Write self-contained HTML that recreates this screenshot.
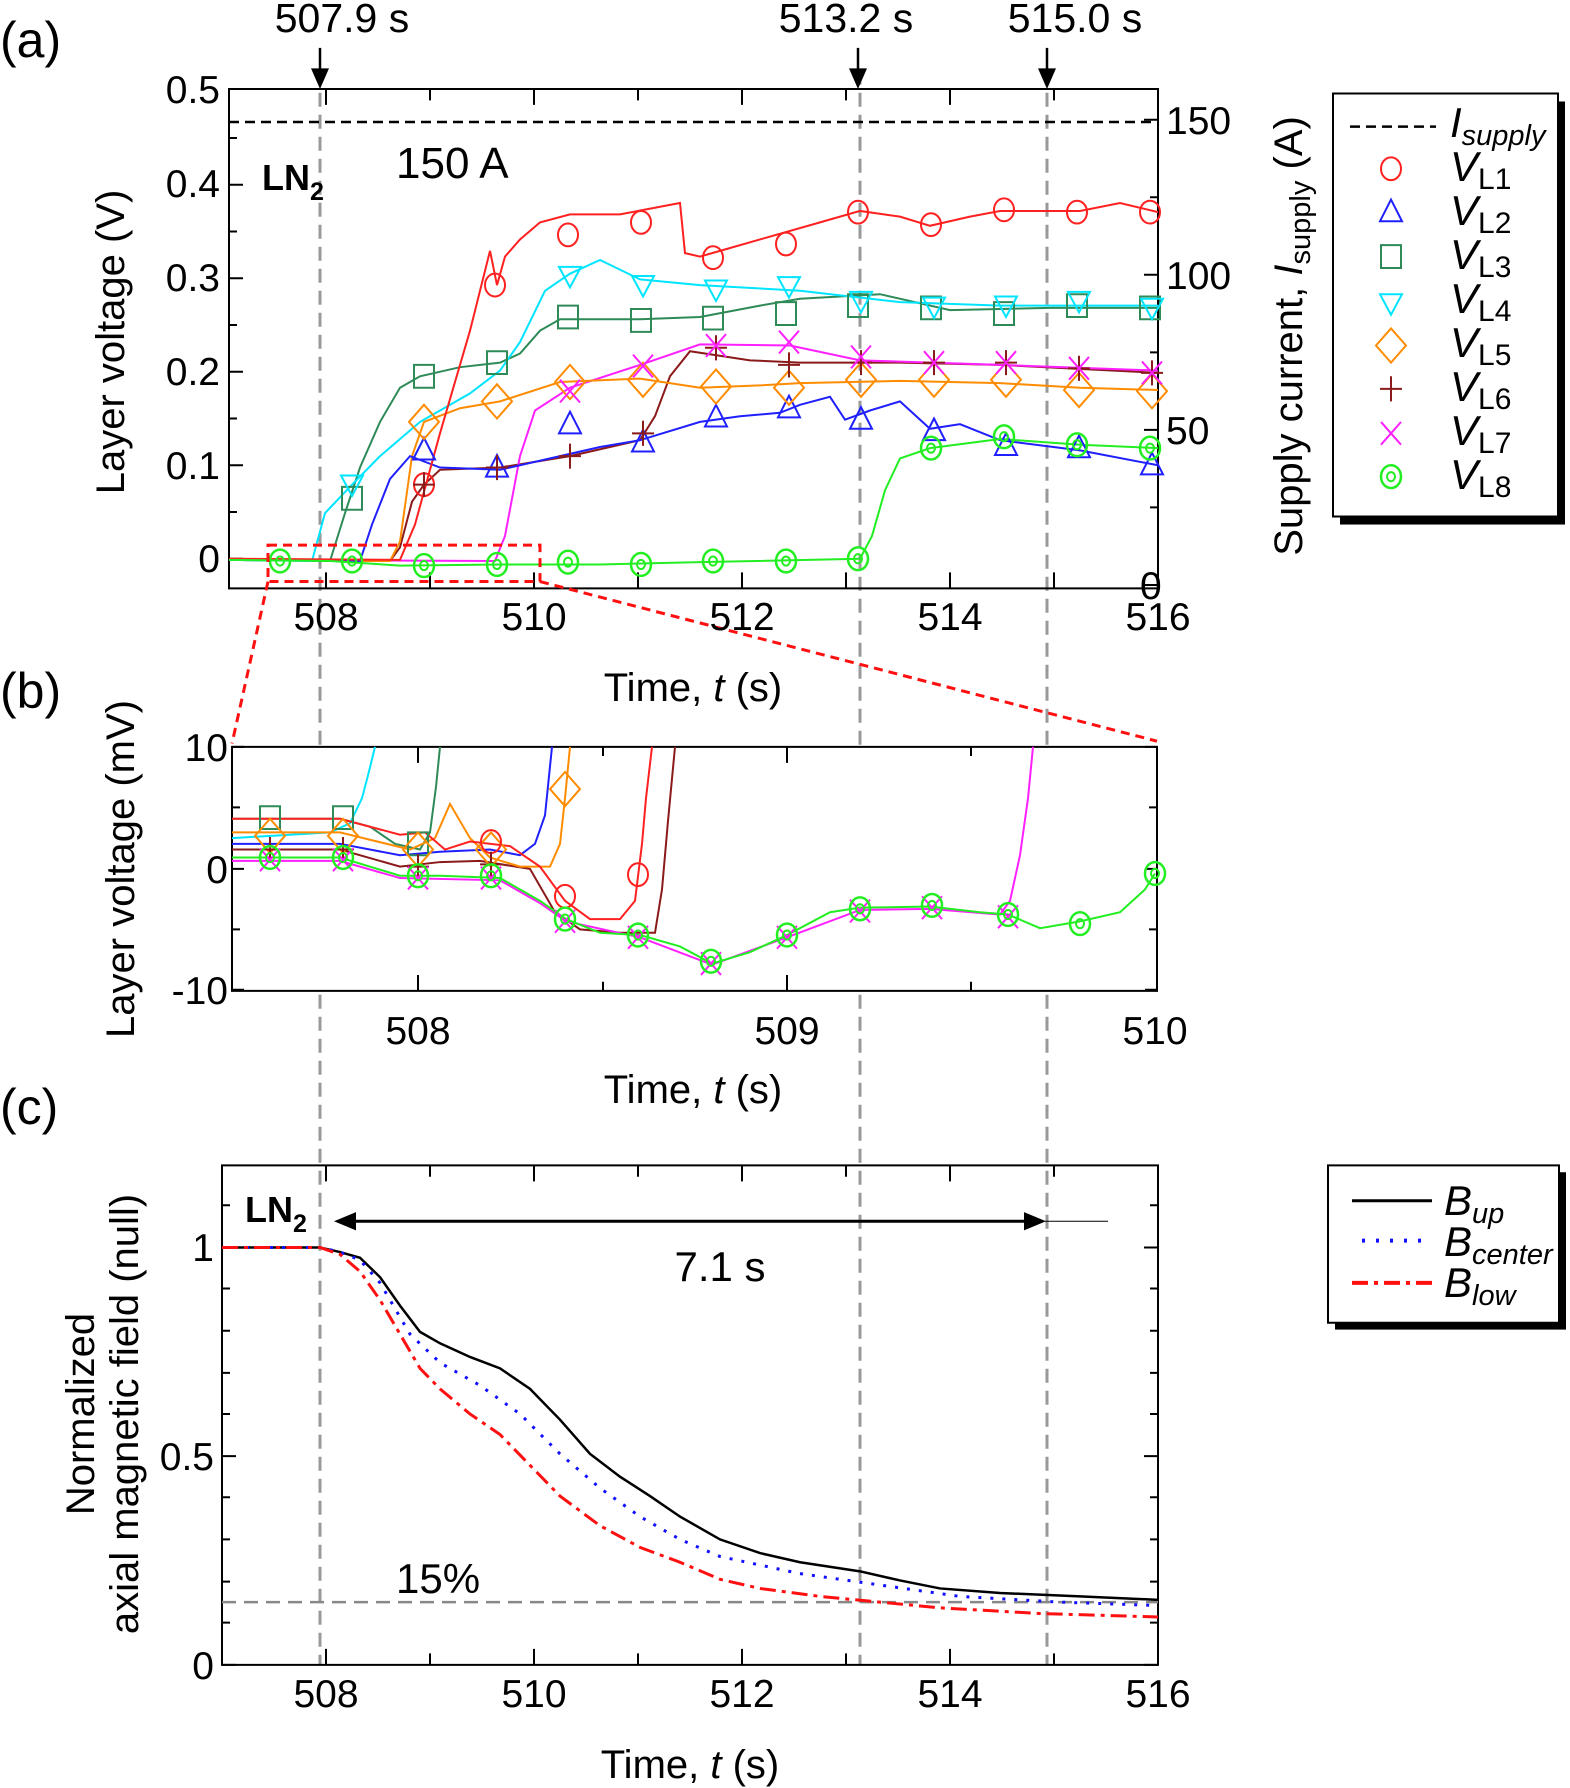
<!DOCTYPE html>
<html><head><meta charset="utf-8"><style>
html,body{margin:0;padding:0;background:#fff;}
svg{display:block;font-family:"Liberation Sans",Arial,sans-serif;}
.ns{vector-effect:non-scaling-stroke;fill:none;}
.wf{vector-effect:non-scaling-stroke;}
</style></head><body>
<svg width="1570" height="1788" viewBox="0 0 1570 1788" xmlns="http://www.w3.org/2000/svg">
<defs>
<g id="mc"><circle r="10" fill="none" stroke="#ff2020" stroke-width="2" class="ns"/></g>
<g id="mt"><path d="M0,-11 L11,8 L-11,8Z" fill="none" stroke="#2020ff" stroke-width="2" class="ns"/></g>
<g id="ms"><rect x="-10" y="-10" width="20" height="20" fill="none" stroke="#2e8b57" stroke-width="2" class="ns"/></g>
<g id="mv"><path d="M0,10 L11,-8 L-11,-8Z" fill="none" stroke="#00e5ff" stroke-width="2" class="ns"/></g>
<g id="md"><path d="M0,-15 L15,0 L0,15 L-15,0Z" fill="none" stroke="#ff8c00" stroke-width="2" class="ns"/></g>
<g id="mp"><path d="M-11,0H11M0,-11V11" stroke="#8b1a1a" stroke-width="2" class="ns"/></g>
<g id="mx"><path d="M-10,-10L10,10M-10,10L10,-10" stroke="#ff20ff" stroke-width="2" class="ns"/></g>
<g id="mo"><circle r="10" fill="none" stroke="#22ee22" stroke-width="2.5" class="ns"/><circle r="4" fill="none" stroke="#22ee22" stroke-width="2" class="ns"/></g>
</defs>

<g transform="scale(1,1.1403)">
<g stroke="#999" stroke-width="3" stroke-dasharray="14,8" class="ns">
<line x1="320" y1="62" x2="320" y2="1460" class="ns"/>
<line x1="860" y1="62" x2="860" y2="1460" class="ns"/>
<line x1="1047" y1="62" x2="1047" y2="1460" class="ns"/>
</g>
<g stroke="#000" stroke-width="2.5">
<line x1="320" y1="42" x2="320" y2="66" class="ns"/><line x1="858" y1="42" x2="858" y2="66" class="ns"/><line x1="1047" y1="42" x2="1047" y2="66" class="ns"/>
</g>
<path d="M311,60 L329,60 L320,78Z M849,60 L867,60 L858,78Z M1038,60 L1056,60 L1047,78Z" fill="#000"/>

<!-- PANEL A -->
<rect x="229" y="78" width="929" height="438" fill="none" stroke="#000" stroke-width="2" class="ns"/>
<g stroke="#000" stroke-width="2" class="ns">
<path class="ns" d="M229,490h14M229,449h8M229,408h14M229,367h8M229,326h14M229,285h8M229,244h14M229,203h8M229,162h14M229,121h8M229,78h14
M1158,513h-14M1158,445h-8M1158,377h-14M1158,309h-8M1158,241h-14M1158,173h-8M1158,105h-14
M326,516v-14M430,516v-14M534,516v-14M638,516v-14M742,516v-14M846,516v-14M950,516v-14M1054,516v-14
M326,78v14M430,78v10M534,78v14M638,78v10M742,78v14M846,78v10M950,78v14M1054,78v10"/>
</g>
<line x1="229" y1="107" x2="1158" y2="107" stroke="#000" stroke-width="2.5" stroke-dasharray="10,6" class="ns"/>
<polyline class="ns" stroke="#8b1a1a" stroke-width="2" points="229,491 390,492 400,480 412,440 424,425 440,412 500,410 570,400 640,386 655,365 670,330 690,308 750,316 800,318 900,318 1000,320 1158,327"/>
<polyline class="ns" stroke="#ff20ff" stroke-width="2" points="229,491 495,492 505,470 520,400 535,360 570,340 640,320 700,302 790,303 860,316 1000,320 1158,325"/>
<polyline class="ns" stroke="#ff8c00" stroke-width="2" points="229,491 390,492 400,475 412,400 424,370 460,358 500,352 560,335 640,332 700,340 760,338 800,336 900,334 1000,336 1080,340 1158,342"/>
<polyline class="ns" stroke="#2020ff" stroke-width="2" points="229,491 360,492 372,460 390,420 410,400 440,410 500,412 560,400 600,392 640,386 700,370 740,365 780,362 800,355 830,348 845,368 870,360 900,352 930,376 960,372 1000,386 1080,395 1158,408"/>
<polyline class="ns" stroke="#2e8b57" stroke-width="2" points="229,491 330,492 345,450 360,410 380,370 400,340 420,330 460,322 500,318 520,310 540,290 560,280 640,280 700,278 760,268 800,262 880,258 950,272 1050,270 1158,270"/>
<polyline class="ns" stroke="#00e5ff" stroke-width="2" points="229,491 312,492 325,450 352,425 380,400 420,370 470,345 500,325 520,300 545,255 570,240 600,228 640,245 700,250 800,255 900,265 1000,268 1158,268"/>
<polyline class="ns" stroke="#ff2020" stroke-width="2" points="229,490 400,491 415,460 440,380 470,290 490,220 497,250 505,225 520,210 540,195 570,188 620,188 680,178 685,222 700,225 720,220 760,210 820,195 860,185 900,190 930,198 970,190 1000,185 1080,185 1120,178 1158,186"/>
<polyline class="ns" stroke="#22ee22" stroke-width="2" points="229,491 330,492 400,496 500,495 600,495 700,493 860,490 872,470 885,430 900,402 930,393 1000,385 1080,390 1158,393"/>
<use href="#mc" x="495" y="250"/><use href="#mc" x="568" y="206"/><use href="#mc" x="641" y="195"/><use href="#mc" x="713" y="226"/><use href="#mc" x="786" y="214"/><use href="#mc" x="858" y="186"/><use href="#mc" x="931" y="197"/><use href="#mc" x="1004" y="184"/><use href="#mc" x="1077" y="186"/><use href="#mc" x="1150" y="186"/><use href="#mc" x="424" y="425"/>
<use href="#mt" x="424" y="395"/><use href="#mt" x="497" y="410"/><use href="#mt" x="570" y="372"/><use href="#mt" x="643" y="388"/><use href="#mt" x="716" y="366"/><use href="#mt" x="789" y="358"/><use href="#mt" x="861" y="368"/><use href="#mt" x="934" y="378"/><use href="#mt" x="1006" y="391"/><use href="#mt" x="1079" y="393"/><use href="#mt" x="1152" y="408"/>
<use href="#ms" x="352" y="437"/><use href="#ms" x="424" y="330"/><use href="#ms" x="497" y="318"/><use href="#ms" x="568" y="278"/><use href="#ms" x="641" y="281"/><use href="#ms" x="713" y="279"/><use href="#ms" x="786" y="275"/><use href="#ms" x="858" y="268"/><use href="#ms" x="931" y="270"/><use href="#ms" x="1004" y="275"/><use href="#ms" x="1077" y="268"/><use href="#ms" x="1150" y="270"/>
<use href="#mv" x="352" y="425"/><use href="#mv" x="570" y="242"/><use href="#mv" x="643" y="250"/><use href="#mv" x="716" y="254"/><use href="#mv" x="789" y="251"/><use href="#mv" x="861" y="264"/><use href="#mv" x="934" y="269"/><use href="#mv" x="1006" y="268"/><use href="#mv" x="1079" y="264"/><use href="#mv" x="1152" y="270"/>
<use href="#md" x="424" y="370"/><use href="#md" x="497" y="352"/><use href="#md" x="570" y="335"/><use href="#md" x="643" y="333"/><use href="#md" x="716" y="339"/><use href="#md" x="789" y="340"/><use href="#md" x="861" y="333"/><use href="#md" x="934" y="333"/><use href="#md" x="1006" y="333"/><use href="#md" x="1079" y="342"/><use href="#md" x="1152" y="343"/>
<use href="#mp" x="424" y="425"/><use href="#mp" x="497" y="410"/><use href="#mp" x="570" y="400"/><use href="#mp" x="643" y="380"/><use href="#mp" x="716" y="305"/><use href="#mp" x="789" y="320"/><use href="#mp" x="861" y="318"/><use href="#mp" x="934" y="318"/><use href="#mp" x="1006" y="318"/><use href="#mp" x="1079" y="323"/><use href="#mp" x="1152" y="327"/>
<use href="#mx" x="570" y="343"/><use href="#mx" x="643" y="321"/><use href="#mx" x="716" y="303"/><use href="#mx" x="789" y="300"/><use href="#mx" x="861" y="313"/><use href="#mx" x="934" y="318"/><use href="#mx" x="1006" y="318"/><use href="#mx" x="1079" y="323"/><use href="#mx" x="1152" y="327"/>
<use href="#mo" x="280" y="492"/><use href="#mo" x="352" y="492"/><use href="#mo" x="424" y="496"/><use href="#mo" x="497" y="495"/><use href="#mo" x="568" y="493"/><use href="#mo" x="641" y="495"/><use href="#mo" x="713" y="492"/><use href="#mo" x="786" y="492"/><use href="#mo" x="858" y="490"/><use href="#mo" x="931" y="393"/><use href="#mo" x="1004" y="383"/><use href="#mo" x="1077" y="390"/><use href="#mo" x="1150" y="393"/>
<g stroke="#ff1010" stroke-width="3" stroke-dasharray="9,6" fill="none">
<rect x="268" y="478" width="272" height="32" class="ns"/>
<line x1="268" y1="510" x2="232" y2="652" class="ns"/>
<line x1="540" y1="510" x2="1157" y2="650" class="ns"/>
</g>

<!-- PANEL B -->
<rect x="232" y="655" width="925" height="214" style="fill:#fff" stroke="#000" stroke-width="2" class="wf"/>
<path class="ns" stroke="#000" stroke-width="2" d="M232,655h12M232,708h8M232,762h12M232,815h8M232,868h12M1157,655h-12M1157,708h-8M1157,762h-12M1157,815h-8M1157,868h-12
M418,869v-14M603,869v-8M787,869v-14M971,869v-8M418,655v14M603,655v8M787,655v14M971,655v8"/>
<polyline class="ns" stroke="#00e5ff" stroke-width="2" points="232,735 330,730 350,722 362,700 368,680 375,655"/>
<polyline class="ns" stroke="#2e8b57" stroke-width="2" points="232,718 340,718 370,725 395,740 420,745 430,730 436,690 440,655"/>
<polyline class="ns" stroke="#8b1a1a" stroke-width="2" points="232,745 340,745 400,760 440,756 480,755 530,762 555,800 580,815 620,818 655,818 662,780 668,720 675,655"/>
<polyline class="ns" stroke="#2020ff" stroke-width="2" points="232,740 340,740 400,750 440,747 490,745 520,750 535,740 545,715 552,655"/>
<polyline class="ns" stroke="#ff8c00" stroke-width="2" points="232,730 340,730 410,745 435,735 450,705 470,735 490,752 520,760 550,760 560,740 565,700 570,655"/>
<polyline class="ns" stroke="#ff2020" stroke-width="2" points="232,718 340,718 400,732 425,730 445,745 470,738 510,742 540,760 565,790 590,806 620,806 635,790 642,740 646,700 652,655"/>
<polyline class="ns" stroke="#ff20ff" stroke-width="2" points="232,755 340,755 400,770 500,772 540,792 566,808 640,822 712,846 787,822 860,798 930,797 1000,802 1010,790 1020,750 1028,700 1033,655"/>
<polyline class="ns" stroke="#22ee22" stroke-width="2" points="232,752 340,752 400,768 440,768 500,770 540,790 566,806 600,818 640,820 680,830 712,845 750,835 787,820 830,800 860,796 930,795 980,800 1008,802 1040,814 1080,808 1120,800 1145,780 1155,766"/>
<use href="#ms" x="270" y="717"/><use href="#ms" x="343" y="717"/><use href="#ms" x="418" y="740"/>
<use href="#md" x="270" y="733"/><use href="#md" x="343" y="733"/><use href="#md" x="418" y="745"/><use href="#md" x="491" y="745"/><use href="#md" x="565" y="692"/>
<use href="#mc" x="491" y="738"/><use href="#mc" x="565" y="786"/><use href="#mc" x="638" y="767"/>
<use href="#mp" x="270" y="745"/><use href="#mp" x="343" y="745"/><use href="#mp" x="418" y="760"/><use href="#mp" x="491" y="758"/>
<use href="#mx" x="270" y="754"/><use href="#mx" x="343" y="754"/><use href="#mx" x="418" y="770"/><use href="#mx" x="491" y="770"/><use href="#mx" x="565" y="808"/><use href="#mx" x="638" y="822"/><use href="#mx" x="711" y="845"/><use href="#mx" x="787" y="822"/><use href="#mx" x="860" y="799"/><use href="#mx" x="932" y="796"/><use href="#mx" x="1008" y="804"/>
<use href="#mo" x="270" y="752"/><use href="#mo" x="343" y="752"/><use href="#mo" x="418" y="768"/><use href="#mo" x="491" y="768"/><use href="#mo" x="565" y="806"/><use href="#mo" x="638" y="820"/><use href="#mo" x="711" y="843"/><use href="#mo" x="787" y="820"/><use href="#mo" x="860" y="797"/><use href="#mo" x="932" y="794"/><use href="#mo" x="1008" y="802"/><use href="#mo" x="1080" y="810"/><use href="#mo" x="1155" y="766"/>

<!-- PANEL C -->
<rect x="222" y="1022" width="936" height="438" fill="none" stroke="#000" stroke-width="2" class="ns"/>
<path class="ns" stroke="#000" stroke-width="2" d="M222,1460h14M222,1423h8M222,1387h8M222,1350h8M222,1313h8M222,1277h14M222,1240h8M222,1204h8M222,1167h8M222,1130h8M222,1094h14M222,1057h8
M1158,1460h-14M1158,1423h-8M1158,1387h-8M1158,1350h-8M1158,1313h-8M1158,1277h-14M1158,1240h-8M1158,1204h-8M1158,1167h-8M1158,1130h-8M1158,1094h-14M1158,1057h-8
M326,1460v-14M430,1460v-10M534,1460v-14M638,1460v-10M742,1460v-14M846,1460v-10M950,1460v-14M1054,1460v-10
M326,1022v14M430,1022v10M534,1022v14M638,1022v10M742,1022v14M846,1022v10M950,1022v14M1054,1022v10"/>
<line x1="222" y1="1405" x2="1158" y2="1405" stroke="#888" stroke-width="2.5" stroke-dasharray="14,8" class="ns"/>
<polyline class="ns" stroke="#000" stroke-width="2.5" points="222,1094 320,1094 340,1098 360,1103 380,1120 400,1145 420,1168 440,1178 470,1190 500,1200 530,1218 560,1245 590,1275 620,1295 650,1312 680,1330 720,1350 760,1362 800,1370 860,1378 900,1386 940,1393 1000,1397 1080,1400 1158,1403"/>
<polyline class="ns" stroke="#1010ff" stroke-width="3" stroke-dasharray="3,9" points="222,1094 320,1094 340,1098 360,1105 380,1125 410,1170 440,1195 480,1215 520,1240 560,1275 600,1305 640,1330 680,1350 720,1365 800,1380 880,1390 960,1400 1060,1405 1158,1408"/>
<polyline class="ns" stroke="#ff1010" stroke-width="3" stroke-dasharray="16,6,4,6" points="222,1094 320,1094 340,1100 360,1115 380,1140 400,1170 420,1200 440,1218 470,1240 500,1258 530,1285 560,1312 600,1338 640,1357 680,1370 720,1385 760,1393 820,1400 880,1405 940,1410 1040,1415 1158,1418"/>
<line x1="350" y1="1071" x2="1030" y2="1071" stroke="#000" stroke-width="3" class="ns"/>
<line x1="1045" y1="1071" x2="1108" y2="1071" stroke="#000" stroke-width="1" class="ns"/>
<path d="M334,1071 L356,1063 L356,1079Z M1046,1071 L1024,1063 L1024,1079Z" fill="#000"/>

<!-- legends -->
<rect x="1340" y="89" width="225" height="371" style="fill:#000"/>
<rect x="1333" y="82" width="225" height="371" style="fill:#fff" stroke="#000" stroke-width="2" class="wf"/>
<line x1="1350" y1="111" x2="1436" y2="111" stroke="#000" stroke-width="2.5" stroke-dasharray="10,6" class="ns"/>
<use href="#mc" x="1391" y="148"/><use href="#mt" x="1391" y="186"/><use href="#ms" x="1391" y="225"/><use href="#mv" x="1391" y="266"/><use href="#md" x="1391" y="303"/><use href="#mp" x="1391" y="341"/><use href="#mx" x="1391" y="380"/><use href="#mo" x="1391" y="418"/>
<rect x="1335" y="1028" width="231" height="138" style="fill:#000"/>
<rect x="1328" y="1022" width="231" height="138" style="fill:#fff" stroke="#000" stroke-width="2" class="wf"/>
<line x1="1352" y1="1053" x2="1432" y2="1053" stroke="#000" stroke-width="3" class="ns"/>
<line x1="1362" y1="1088" x2="1432" y2="1088" stroke="#1010ff" stroke-width="4" stroke-dasharray="3,11" class="ns"/>
<line x1="1352" y1="1125" x2="1432" y2="1125" stroke="#ff1010" stroke-width="4" stroke-dasharray="16,6,4,6" class="ns"/>
</g>

<!-- TEXT -->
<g fill="#000">
<text x="0" y="57" font-size="50">(a)</text>
<text x="0" y="708" font-size="50">(b)</text>
<text x="0" y="1124" font-size="50">(c)</text>
<text x="342" y="32" text-anchor="middle" font-size="41">507.9 s</text>
<text x="846" y="32" text-anchor="middle" font-size="41">513.2 s</text>
<text x="1075" y="32" text-anchor="middle" font-size="41">515.0 s</text>
</g>
<g font-size="39" fill="#000" text-anchor="end">
<text x="220" y="103">0.5</text><text x="220" y="197">0.4</text><text x="220" y="291">0.3</text><text x="220" y="385">0.2</text><text x="220" y="479">0.1</text><text x="220" y="572">0</text>
<text x="228" y="761">10</text><text x="228" y="883">0</text><text x="228" y="1004">-10</text>
<text x="214" y="1261">1</text><text x="214" y="1470">0.5</text><text x="214" y="1679">0</text>
</g>
<g font-size="39" fill="#000">
<text x="1166" y="134">150</text><text x="1166" y="289">100</text><text x="1166" y="444">50</text><text x="1140" y="599">0</text>
</g>
<g font-size="39" fill="#000" text-anchor="middle">
<text x="326" y="630">508</text><text x="534" y="630">510</text><text x="742" y="630">512</text><text x="950" y="630">514</text><text x="1158" y="630">516</text>
<text x="418" y="1044">508</text><text x="787" y="1044">509</text><text x="1155" y="1044">510</text>
<text x="326" y="1707">508</text><text x="534" y="1707">510</text><text x="742" y="1707">512</text><text x="950" y="1707">514</text><text x="1158" y="1707">516</text>
<text x="693" y="701" font-size="40">Time, <tspan font-style="italic">t</tspan> (s)</text>
<text x="693" y="1103" font-size="40">Time, <tspan font-style="italic">t</tspan> (s)</text>
<text x="690" y="1778" font-size="40">Time, <tspan font-style="italic">t</tspan> (s)</text>
<text transform="translate(124,342) rotate(-90)" font-size="40">Layer voltage (V)</text>
<text transform="translate(134,869) rotate(-90)" font-size="40">Layer voltage (mV)</text>
<text transform="translate(1302,336) rotate(-90)" font-size="40">Supply current, <tspan font-style="italic">I</tspan><tspan font-size="29" dy="8">supply</tspan><tspan dy="-8"> (A)</tspan></text>
<text transform="translate(94,1414) rotate(-90)" font-size="40">Normalized</text>
<text transform="translate(138,1414) rotate(-90)" font-size="40">axial magnetic field (null)</text>
</g>
<g fill="#000">
<text x="262" y="190" font-size="36" font-weight="bold">LN<tspan font-size="25" dy="10">2</tspan></text>
<text x="396" y="178" font-size="44">150 A</text>
<text x="245" y="1222" font-size="36" font-weight="bold">LN<tspan font-size="25" dy="10">2</tspan></text>
<text x="720" y="1281" font-size="42" text-anchor="middle">7.1 s</text>
<text x="396" y="1593" font-size="42">15%</text>
</g>
<g fill="#000" font-size="42" font-style="italic">
<text x="1450" y="137">I<tspan font-size="29" dy="8">supply</tspan></text>
<text x="1450" y="181">V<tspan font-size="30" font-style="normal" dy="8">L1</tspan></text>
<text x="1450" y="225">V<tspan font-size="30" font-style="normal" dy="8">L2</tspan></text>
<text x="1450" y="269">V<tspan font-size="30" font-style="normal" dy="8">L3</tspan></text>
<text x="1450" y="313">V<tspan font-size="30" font-style="normal" dy="8">L4</tspan></text>
<text x="1450" y="357">V<tspan font-size="30" font-style="normal" dy="8">L5</tspan></text>
<text x="1450" y="401">V<tspan font-size="30" font-style="normal" dy="8">L6</tspan></text>
<text x="1450" y="445">V<tspan font-size="30" font-style="normal" dy="8">L7</tspan></text>
<text x="1450" y="489">V<tspan font-size="30" font-style="normal" dy="8">L8</tspan></text>
<text x="1444" y="1215">B<tspan font-size="29" dy="8">up</tspan></text>
<text x="1444" y="1256">B<tspan font-size="29" dy="8">center</tspan></text>
<text x="1444" y="1297">B<tspan font-size="29" dy="8">low</tspan></text>
</g>
</svg>
</body></html>
